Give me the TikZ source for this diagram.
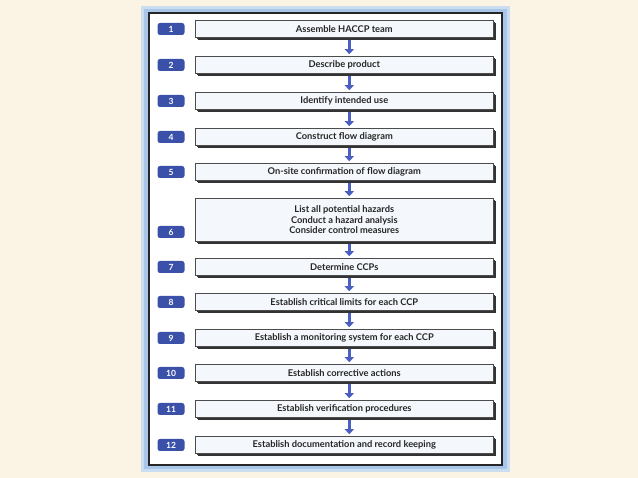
\documentclass[tikz,border=0pt]{standalone}
\usepackage{fontspec}
\setmainfont{Lato}
\usetikzlibrary{arrows.meta,shadows}
\definecolor{bg}{HTML}{FBF4E4}
\definecolor{glow}{HTML}{A9C6E8}
\definecolor{badge}{HTML}{3B50A8}
\definecolor{arr}{HTML}{4A5FC0}
\definecolor{boxfill}{HTML}{F4F7FC}
\begin{document}
\begin{tikzpicture}[x=1pt,y=-1pt,
  stepbox/.style={draw=black!70,line width=0.6pt,fill=boxfill,minimum width=298pt,anchor=west,inner sep=0pt,
    font=\fontsize{9.3}{10.5}\selectfont\bfseries,text=black!85,align=center,
    double copy shadow={shadow xshift=1.2pt,shadow yshift=-1.2pt,fill=black!80,draw=none}},
  badgebox/.style={fill=badge,rounded corners=2.5pt,minimum width=27pt,minimum height=12pt,inner sep=0pt,
    text=white,font=\fontsize{8.5}{8.5}\selectfont\bfseries},
  flow/.style={-{Triangle[width=9pt,length=5pt]},line width=3.6pt,draw=arr,shorten <=2pt,shorten >=2pt}]
\useasboundingbox (0,0) rectangle (638,478);
\fill[bg] (0,0) rectangle (638,478);
\fill[glow!60] (141,6) rectangle (510,472);
\fill[glow] (144,9) rectangle (507,469);
\draw[fill=white,line width=1.2pt,draw=black!85] (149,13) rectangle (502,465);
\foreach \n/\y/\h/\t in {1/29/17/{Assemble HACCP team},2/65/17/{Describe product},3/101/17/{Identify intended use},
  4/137/17/{Construct flow diagram},5/172/17/{On-site confirmation of flow diagram},
  6/220/43/{List all potential hazards\\Conduct a hazard analysis\\Consider control measures},
  7/267/17/{Determine CCPs},8/302/17/{Establish critical limits for each CCP},
  9/338/17/{Establish a monitoring system for each CCP},10/373/17/{Establish corrective actions},
  11/409/17/{Establish verification procedures},12/445/17/{Establish documentation and record keeping}}{
  \node[stepbox,minimum height=\h pt] (s\n) at (195,\y) {\t};
}
\foreach \n/\y in {1/29,2/65,3/101,4/137,5/172,6/232,7/267,8/302,9/338,10/373,11/409,12/445}{
  \node[badgebox] (b\n) at (171,\y) {\n};
}
\foreach \a/\b in {1/2,2/3,3/4,4/5,5/6,6/7,7/8,8/9,9/10,10/11,11/12}{
  \draw[flow] ([xshift=5pt]s\a.south) -- ([xshift=5pt]s\b.north);
}
\end{tikzpicture}
\end{document}
